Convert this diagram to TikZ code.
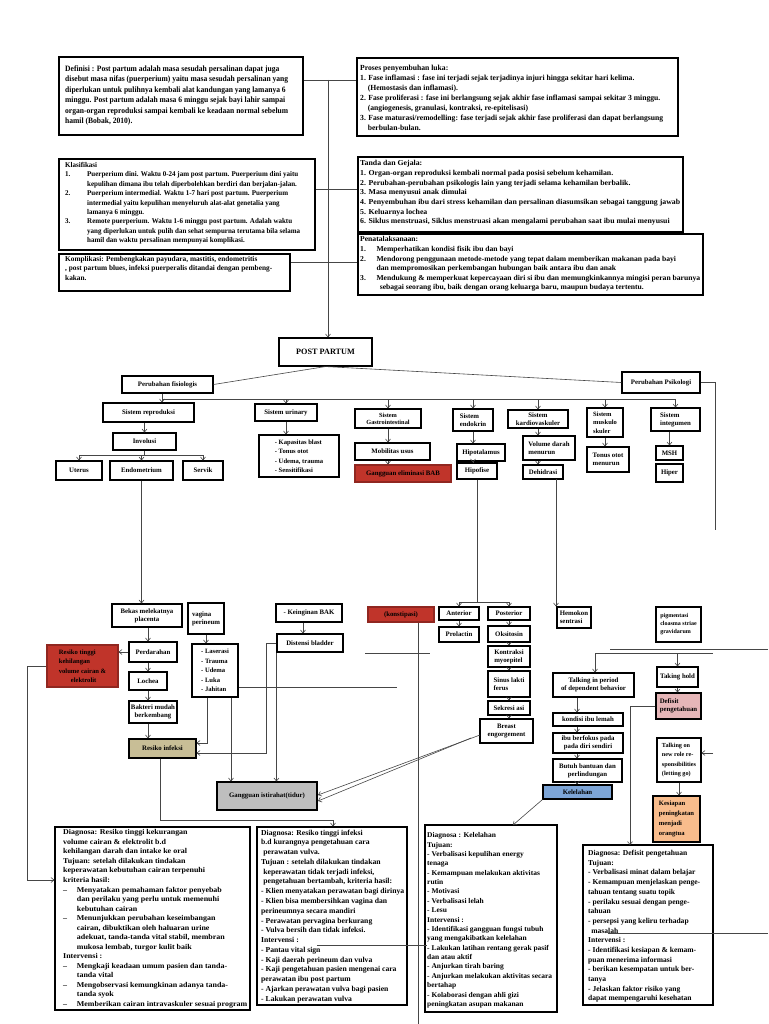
\documentclass[tikz,border=0pt]{standalone}
\usepackage{fontspec}
\usepackage{graphicx}
\setmainfont{Liberation Serif}
\usetikzlibrary{arrows.meta,fit,calc}
\definecolor{redbox}{RGB}{192,52,42}
\definecolor{tanbox}{RGB}{200,190,150}
\definecolor{graybox}{RGB}{190,190,190}
\definecolor{bluebox}{RGB}{125,165,215}
\definecolor{pinkbox}{RGB}{230,182,184}
\definecolor{orangebox}{RGB}{248,188,140}
\definecolor{lineg}{RGB}{70,70,70}
\newcommand\fsz[2]{\fontsize{#1}{#2}\selectfont\bfseries}
\tikzset{
 box/.style={draw=black,line width=1.1pt,fill=white,rectangle},
 txt/.style={inner sep=0pt,text=black},
 stxt/.style={inner sep=0pt,align=center,text=black,font=\fsz{6.8}{8}},
 conn/.style={draw=lineg,line width=0.6pt},
 arr/.style={conn,-{Straight Barb[length=3pt,width=5pt]}},
 redf/.style={fill=redbox,draw=redbox!75!black},
 tanf/.style={fill=tanbox},
 grayf/.style={fill=graybox},
 bluef/.style={fill=bluebox},
 pinkf/.style={fill=pinkbox},
 orangef/.style={fill=orangebox}
}
% text box: name, corner1, corner2, box style, text position, text width, text total height, text
\newcommand\tbox[8]{%
 \node[box,#4,fit={(#2)(#3)},inner sep=0pt] (#1) {};
 \node[txt,anchor=north west] (#1-t) at (#5) {\resizebox*{#6pt}{#7pt}{\fsz{7}{9}\begin{tabular}{@{}l@{}}#8\end{tabular}}};}
% small box: [text opts], name, corner1, corner2, box style, text
\newcommand\snode[6][]{%
 \node[box,#5,fit={(#3)(#4)},inner sep=0pt] (#2) {};
 \node[stxt,#1] (#2-t) at (#2.center) {#6};}
\begin{document}
\begin{tikzpicture}[x=1pt,y=-1pt]
\useasboundingbox (0,0) rectangle (768,1024);
\fill[white] (0,0) rectangle (768,1024);

% ---------- top text boxes ----------
\tbox{def}{59,57}{303,135}{}{65,63.6}{223}{63}{%
Definisi : Post partum adalah masa sesudah persalinan dapat juga\\
disebut masa nifas (puerperium) yaitu masa sesudah persalinan yang\\
diperlukan untuk pulihnya kembali alat kandungan yang lamanya 6\\
minggu. Post partum adalah masa 6 minggu sejak bayi lahir sampai\\
organ-organ reproduksi sampai kembali ke keadaan normal sebelum\\
hamil (Bobak, 2010).}

\tbox{proses}{357,58}{678,136}{}{360,63.5}{303}{70}{%
Proses penyembuhan luka:\\
1. Fase inflamasi : fase ini terjadi sejak terjadinya injuri hingga sekitar hari kelima.\\
\hspace*{7pt}(Hemostasis dan inflamasi).\\
2. Fase proliferasi : fase ini berlangsung sejak akhir fase inflamasi sampai sekitar 3 minggu.\\
\hspace*{7pt}(angiogenesis, granulasi, kontraksi, re-epitelisasi)\\
3. Fase maturasi/remodelling: fase terjadi sejak akhir fase proliferasi dan dapat berlangsung\\
\hspace*{7pt}berbulan-bulan.}

\tbox{klas}{59,159}{315,250}{}{65,160.8}{235}{84.6}{%
Klasifikasi\\
\makebox[22pt][l]{1.}Puerperium dini. Waktu 0-24 jam post partum. Puerperium dini yaitu\\
\hspace*{22pt}kepulihan dimana ibu telah diperbolehkan berdiri dan berjalan-jalan.\\
\makebox[22pt][l]{2.}Puerperium intermedial. Waktu 1-7 hari post partum. Puerperium\\
\hspace*{22pt}intermedial yaitu kepulihan menyeluruh alat-alat genetalia yang\\
\hspace*{22pt}lamanya 6 minggu.\\
\makebox[22pt][l]{3.}Remote puerperium. Waktu 1-6 minggu post partum. Adalah waktu\\
\hspace*{22pt}yang diperlukan untuk pulih dan sehat sempurna terutama bila selama\\
\hspace*{22pt}hamil dan waktu persalinan mempunyai komplikasi.}

\tbox{komp}{59,254}{290,291}{}{65,254.5}{207}{28.5}{%
Komplikasi: Pembengkakan payudara, mastitis, endometritis\\
, post partum blues, infeksi puerperalis ditandai dengan pembeng-\\
kakan.}

\tbox{tanda}{358,157}{683,232}{}{360,158.6}{320}{68}{%
Tanda dan Gejala:\\
1. Organ-organ reproduksi kembali normal pada posisi sebelum kehamilan.\\
2. Perubahan-perubahan psikologis lain yang terjadi selama kehamilan berbalik.\\
3. Masa menyusui anak dimulai\\
4. Penyembuhan ibu dari stress kehamilan dan persalinan diasumsikan sebagai tanggung jawab\\
5. Keluarnya lochea\\
6. Siklus menstruasi, Siklus menstruasi akan mengalami perubahan saat ibu mulai menyusui}

\tbox{penat}{358,234}{703,295}{}{360,235}{340}{57.6}{%
Penatalaksanaan:\\
\makebox[15pt][l]{1.}Memperhatikan kondisi fisik ibu dan bayi\\
\makebox[15pt][l]{2.}Mendorong penggunaan metode-metode yang tepat dalam memberikan makanan pada bayi\\
\hspace*{15pt}dan mempromosikan perkembangan hubungan baik antara ibu dan anak\\
\makebox[15pt][l]{3.}Mendukung \& memperkuat kepercayaan diri si ibu dan memungkinkannya mingisi peran barunya\\
\hspace*{18pt}sebagai seorang ibu, baik dengan orang keluarga baru, maupun budaya tertentu.}

% ---------- upper chart ----------
\snode{pp}{279,338}{372,366}{}{\fsz{8.2}{9}POST PARTUM}
\snode{fis}{122,376}{213,393}{}{Perubahan fisiologis}
\snode{psi}{622,372}{700,393}{}{Perubahan Psikologi}
\snode{srep}{103,403}{194,422}{}{Sistem reproduksi}
\snode{suri}{255,404}{317,421}{}{Sistem urinary}
\snode[font=\fsz{6.3}{7}]{sgas}{355,409}{421,428}{}{Sistem\\Gastrointestinal}
\snode[align=left]{sendo}{453,409}{493,431}{}{Sistem\\endokrin}
\snode{skar}{508,410}{568,428}{}{Sistem\\kardiovaskuler}
\snode[align=left,font=\fsz{6.5}{8.5}]{smus}{587,408}{623,437}{}{Sistem\\muskulo\\skuler}
\snode[align=left]{sint}{651,408}{700,431}{}{Sistem\\integumen}
\snode{inv}{113,433}{176,450}{}{Involusi}
\snode{ute}{56,461}{102,480}{}{Uterus}
\snode{endo}{110,461}{173,480}{}{Endometrium}
\snode{serv}{183,461}{223,480}{}{Servik}
\snode[align=left,font=\fsz{6.6}{9.5}]{ulist}{259,435}{339,477}{}{- Kapasitas blast\\- Tonus otot\\- Udema, trauma\\- Sensitifikasi}
\snode{mob}{355,443}{430,460}{}{Mobilitas usus}
\snode{gbab}{355,465}{451,482}{redf}{Gangguan eliminasi BAB}
\snode{hipt}{457,444}{505,461}{}{Hipotalamus}
\snode{hipf}{457,463}{497,479}{}{Hipofise}
\snode[align=left]{vol}{523,436}{575,460}{}{Volume darah\\menurun}
\snode{deh}{523,465}{563,479}{}{Dehidrasi}
\snode[align=left]{ton}{587,447}{629,472}{}{Tonus otot\\menurun}
\snode{msh}{656,446}{683,460}{}{MSH}
\snode{hip}{656,464}{683,482}{}{Hiper}

% ---------- middle chart ----------
\snode{bek}{112,604}{182,627}{}{Bekas melekatnya\\placenta}
\snode[align=left]{vag}{188,603}{224,634}{}{vagina\\perineum}
\snode{kbak}{276,604}{342,622}{}{- Keinginan BAK}
\snode{dist}{277,634}{343,652}{}{Distensi bladder}
\snode{kons}{368,607}{434,622}{redf}{(konstipasi)}
\snode{ant}{439,607}{479,620}{}{Anterior}
\snode{post}{488,607}{530,620}{}{Posterior}
\snode{prol}{439,627}{479,642}{}{Prolactin}
\snode{oks}{488,626}{530,642}{}{Oksitosin}
\snode[align=left]{kont}{488,646}{530,667}{}{Kontraksi\\myoepitel}
\snode[align=left]{sinus}{488,671}{530,697}{}{Sinus lakti\\ferus}
\snode{sek}{488,701}{530,715}{}{Sekresi asi}
\snode{breast}{480,719}{533,743}{}{Breast\\engorgement}
\snode[align=left]{hemo}{557,607}{591,628}{}{Hemokon\\sentrasi}
\snode[align=left,font=\fsz{6}{8}]{pig}{656,607}{701,642}{}{pigmentasi\\cloasma striae\\gravidarum}
\snode{tin}{553,673}{634,697}{}{Talking in period\\of dependent behavior}
\snode{thold}{657,667}{698,687}{}{Taking hold}
\snode[align=left]{defi}{656,693}{701,719}{pinkf}{Defisit\\pengetahuan}
\snode{kond}{553,713}{623,726}{}{kondisi ibu lemah}
\snode{fok}{553,733}{623,753}{}{ibu berfokus pada\\pada diri sendiri}
\snode{butuh}{553,759}{622,782}{}{Butuh bantuan dan\\perlindungan}
\snode{lelah}{543,785}{612,799}{bluef}{Kelelahan}
\snode[align=left,font=\fsz{6.2}{9.5}]{tson}{657,738}{701,782}{}{Talking on\\new role re-\\sponsibilities\\(letting go)}
\snode[align=left,font=\fsz{6.6}{10}]{kes}{653,796}{700,842}{orangef}{Kesiapan\\peningkatan\\menjadi\\orangtua}

\snode{perd}{129,642}{177,662}{}{Perdarahan}
\snode[align=left,font=\fsz{6.6}{9.5}]{rtk}{47,645}{118,687}{redf}{Resiko tinggi\\kehilangan\\volume cairan \&\\\hspace*{12pt}elektrolit}
\snode{loc}{129,672}{167,690}{}{Lochea}
\snode[align=left,font=\fsz{6.6}{9.5}]{llist}{192,644}{238,697}{}{- Laserasi\\- Trauma\\- Udema\\- Luka\\- Jahitan}
\snode{bak}{129,701}{177,723}{}{Bakteri mudah\\berkembang}
\snode{rinf}{129,739}{196,758}{tanf}{Resiko infeksi}
\snode{gist}{217,782}{317,810}{grayf}{Gangguan istirahat(tidur)}

% ---------- diagnosis boxes ----------
\tbox{d1}{55,827}{250,1010}{}{63,828}{184}{181}{%
Diagnosa: Resiko tinggi kekurangan\\
volume cairan \& elektrolit b.d\\
kehilangan darah dan intake ke oral\\
Tujuan: setelah dilakukan tindakan\\
keperawatan kebutuhan cairan terpenuhi\\
kriteria hasil:\\
\makebox[12pt][l]{--}Menyatakan pemahaman faktor penyebab\\
\hspace*{12pt}dan perilaku yang perlu untuk memenuhi\\
\hspace*{12pt}kebutuhan cairan\\
\makebox[12pt][l]{--}Menunjukkan perubahan keseimbangan\\
\hspace*{12pt}cairan, dibuktikan oleh haluaran urine\\
\hspace*{12pt}adekuat, tanda-tanda vital stabil, membran\\
\hspace*{12pt}mukosa lembab, turgor kulit baik\\
Intervensi :\\
\makebox[12pt][l]{--}Mengkaji keadaan umum pasien dan tanda-\\
\hspace*{12pt}tanda vital\\
\makebox[12pt][l]{--}Mengobservasi kemungkinan adanya tanda-\\
\hspace*{12pt}tanda syok\\
\makebox[12pt][l]{--}Memberikan cairan intravaskuler sesuai program}

\tbox{d2}{257,827}{407,1005}{}{261,828}{143}{176}{%
Diagnosa: Resiko tinggi infeksi\\
b.d kurangnya pengetahuan cara\\
\hspace*{2pt}perawatan vulva.\\
Tujuan : setelah dilakukan tindakan\\
\hspace*{2pt}keperawatan tidak terjadi infeksi,\\
\hspace*{2pt}pengetahuan bertambah, kriteria hasil:\\
- Klien menyatakan perawatan bagi dirinya\\
- Klien bisa membersihkan vagina dan\\
perineumnya secara mandiri\\
- Perawatan pervagina berkurang\\
- Vulva bersih dan tidak infeksi.\\
Intervensi :\\
- Pantau vital sign\\
- Kaji daerah perineum dan vulva\\
- Kaji pengetahuan pasien mengenai cara\\
perawatan ibu post partum\\
- Ajarkan perawatan vulva bagi pasien\\
- Lakukan perawatan vulva}

\tbox{d3}{425,825}{557,1012}{}{427,831}{125}{178}{%
Diagnosa : Kelelahan\\
Tujuan:\\
- Verbalisasi kepulihan energy\\
tenaga\\
- Kemampuan melakukan aktivitas\\
rutin\\
- Motivasi\\
- Verbalisasi lelah\\
- Lesu\\
Intervensi :\\
- Identifikasi gangguan fungsi tubuh\\
yang mengakibatkan kelelahan\\
- Lakukan latihan rentang gerak pasif\\
dan atau aktif\\
- Anjurkan tirah baring\\
- Anjurkan melakukan aktivitas secara\\
bertahap\\
- Kolaborasi dengan ahli gizi\\
peningkatan asupan makanan}

\tbox{d4}{583,845}{713,1005}{}{588,848.6}{112}{155}{%
Diagnosa: Defisit pengetahuan\\
Tujuan:\\
- Verbalisasi minat dalam belajar\\
- Kemampuan menjelaskan penge-\\
tahuan tentang suatu topik\\
- perilaku sesuai dengan penge-\\
tahuan\\
- persepsi yang keliru terhadap\\
\hspace*{3pt}masalah\\
Intervensi :\\
- Identifikasi kesiapan \& kemam-\\
puan menerima informasi\\
- berikan kesempatan untuk ber-\\
tanya\\
- Jelaskan faktor risiko yang\\
dapat mempengaruhi kesehatan}

% ---------- connectors: top ----------
\coordinate (jtop) at (328,80);
\coordinate (jk) at (328,189);
\coordinate (jp) at (328,262);
\draw[conn] (def.east |- jtop) -- (proses.west |- jtop);
\draw[arr] (jtop) -- (pp.north -| jtop);
\draw[conn] (klas.east |- jk) -- (tanda.west |- jk);
\draw[conn] (komp.east |- jp) -- (penat.west |- jp);
\draw[conn] (pp.south) -- (fis.east);
\draw[conn] (pp.south) -- (psi.west);
\coordinate (psiend) at (715,530);
\draw[conn] (psi.east) -| (psiend);

\coordinate (bus1) at (162,399);
\draw[conn] (fis.south -| bus1) -- (bus1) -- (sint.north |- bus1);
\draw[arr] (bus1) -- (srep.north -| bus1);
\foreach \n in {suri,sgas,sendo,skar,smus,sint} \draw[arr] (\n.north |- bus1) -- (\n.north);

\draw[arr] (inv.north |- srep.south) -- (inv.north);
\coordinate (bus2) at (144.5,455);
\draw[conn] (inv.south) -- (bus2);
\draw[conn] (ute.north |- bus2) -- (serv.north |- bus2);
\foreach \n in {ute,endo,serv} \draw[arr] (\n.north |- bus2) -- (\n.north);

\draw[arr] (endo.south) -- (endo.south |- bek.north);
\draw[arr] (suri.south) -- (suri.south |- ulist.north);
\draw[arr] (sgas.south) -- (sgas.south |- mob.north);
\draw[arr] (mob.south -| sgas.south) -- (gbab.north -| sgas.south);
\draw[arr] (sendo.south) -- (sendo.south |- hipt.north);
\draw[arr] (hipt.south -| sendo.south) -- (hipf.north -| sendo.south);
\coordinate (bus3) at (477,602);
\draw[conn] (hipf.south) -- (bus3);
\draw[conn] (ant.north |- bus3) -- (post.north |- bus3);
\draw[arr] (ant.north |- bus3) -- (ant.north);
\draw[arr] (post.north |- bus3) -- (post.north);
\draw[arr] (ant.south) -- (prol.north -| ant.south);
\foreach \a/\b in {post/oks,oks/kont,kont/sinus,sinus/sek,sek/breast} \draw[arr] (\a.south) -- (\a.south |- \b.north);
\draw[arr] (skar.south) -- (skar.south |- vol.north);
\draw[arr] (vol.south -| skar.south) -- (deh.north -| skar.south);
\coordinate (dh) at (556,479);
\draw[arr] (dh) -- (dh |- hemo.north);
\draw[arr] (smus.south) -- (smus.south |- ton.north);
\draw[arr] (msh.north |- sint.south) -- (msh.north);

% ---------- connectors: middle left ----------
\coordinate (cx) at (148,0);
\draw[arr] (bek.south -| cx) -- (perd.north -| cx);
\draw[arr] (perd.south -| cx) -- (loc.north -| cx);
\draw[arr] (loc.south -| cx) -- (bak.north -| cx);
\draw[arr] (bak.south -| cx) -- (rinf.north -| cx);
\draw[arr] (perd.west) -- (perd.west -| rtk.east);
\draw[arr] (vag.south) -- (vag.south |- llist.north);
\coordinate (kx) at (303,0);
\draw[arr] (kbak.south -| kx) -- (dist.north -| kx);
\coordinate (l1) at (207,743);
\draw[arr] (llist.south -| l1) -- (l1) -- (rinf.east |- l1);
\coordinate (d1c) at (266,753);
\draw[arr] (dist.west) -| (d1c) -- (rinf.east |- d1c);
\coordinate (g1) at (231,0);
\draw[arr] (llist.south -| g1) -- (gist.north -| g1);
\draw[arr] (dist.south west) -- (dist.south west |- gist.north);
\coordinate (h1) at (397,687);
\draw[conn] (llist.east |- h1) -- (h1);
\coordinate (f1a) at (365,653);
\coordinate (f1b) at (430,653);
\draw[conn] (f1a) -- (f1b);
\coordinate (kv) at (418,1024);
\draw[conn] (kons.south -| kv) -- (kv);
\coordinate (bs1) at (480,735);
\coordinate (bs2) at (471,738);
\coordinate (ge1) at (318,795);
\coordinate (ge2) at (318,801);
\draw[arr] (bs1) -- (ge1);
\draw[arr] (bs2) -- (ge2);
\coordinate (r2) at (27,880);
\draw[arr] (rtk.west) -| (r2) -- (d1.west |- r2);
\coordinate (i1) at (160,820);
\coordinate (i2) at (333,820);
\draw[arr] (rinf.south -| i1) -- (i1) -- (i2) -- (d2.north -| i2);
\coordinate (c1) at (317,945);
\coordinate (c2) at (427,945);
\draw[conn] (c1) -- (c2);

% ---------- connectors: right ----------
\coordinate (k1) at (513,825);
\draw[arr] (lelah.south west) -- (k1);
\coordinate (c3) at (608,933);
\coordinate (c4) at (768,933);
\draw[conn] (c3) -- (c4);
\coordinate (t3) at (610,649);
\coordinate (t4) at (768,649);
\draw[conn] (t3) -- (t4);
\coordinate (t1) at (595,653);
\coordinate (t2) at (713,653);
\draw[conn] (t1) -- (t2);
\draw[arr] (t1) -- (t1 |- tin.north);
\draw[arr] (thold.north |- t1) -- (thold.north);
\coordinate (ax) at (577,0);
\draw[arr] (tin.south -| ax) -- (kond.north -| ax);
\draw[arr] (kond.south -| ax) -- (fok.north -| ax);
\draw[arr] (fok.south -| ax) -- (butuh.north -| ax);
\draw[arr] (butuh.south -| ax) -- (lelah.north -| ax);
\draw[arr] (thold.south) -- (thold.south |- defi.north);
\coordinate (dd1) at (630,845);
\draw[arr] (defi.west) -| (dd1);
\draw[arr] (tson.south) -- (tson.south |- kes.north);
\coordinate (to1) at (713,753);
\draw[arr] (to1) -- (tson.east |- to1);
\end{tikzpicture}
\end{document}
